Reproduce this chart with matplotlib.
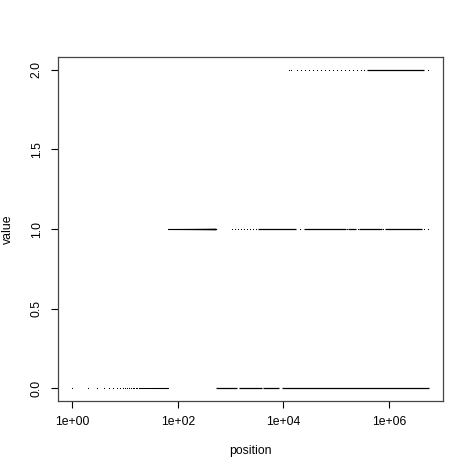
import numpy as np
import matplotlib
matplotlib.use("Agg")
import matplotlib.pyplot as plt
from matplotlib.ticker import FixedLocator, NullLocator

plt.rcParams['font.family'] = ['Liberation Sans', 'DejaVu Sans']

# ---- data: individual points (position, value) ----
low_positions = list(range(1, 65))          # value 0, integer positions
low_values = [0] * len(low_positions)

run1_positions = list(range(65, 526))       # value 1 run
run1_values = [1] * len(run1_positions)

sparse_pos_1 = [1072, 1222, 1393, 1585, 1807, 2060, 2350, 2675, 3050, 21000, 160000, 255000, 780000, 4.6e6, 5.4e6]
sparse_val_1 = [1] * len(sparse_pos_1)

sparse_pos_2 = [12800, 14000, 18200, 21600, 25700, 30600, 36400, 43300, 51600, 61400,
                73100, 87000, 103500, 123000, 147000, 175000, 208000, 247000, 294000, 336000, 5.43e6]
sparse_val_2 = [2] * len(sparse_pos_2)

# ---- data: dense runs (start, end, value) ----
run_starts = [526, 1456, 4130, 9450,
              3330, 24600, 167000, 269000, 837000,
              382000]
run_ends = [1334, 3909, 8280, 5.68e6,
            17140, 151000, 237000, 735000, 4.19e6,
            4.56e6]
run_values = [0, 0, 0, 0,
              1, 1, 1, 1, 1,
              2]

y_ticks = [0.0, 0.5, 1.0, 1.5, 2.0]
y_ticklabels = ["0.0", "0.5", "1.0", "1.5", "2.0"]
x_ticks = [1e0, 1e2, 1e4, 1e6]
x_ticklabels = ["1e+00", "1e+02", "1e+04", "1e+06"]

fig = plt.figure(figsize=(4.74, 4.74), dpi=100)
ax = fig.add_axes([58/474, 73/474, (443-58)/474, (401-57)/474])

ms = 0.75
for xs, ys in [(low_positions, low_values), (run1_positions, run1_values),
               (sparse_pos_1, sparse_val_1), (sparse_pos_2, sparse_val_2)]:
    ax.plot(xs, ys, linestyle='none', marker='s', markersize=ms,
            markeredgewidth=0, color='black')

ax.hlines(run_values, run_starts, run_ends, colors='black', linewidth=0.9)

ax.set_xscale('log')
lo, hi = 0.0, np.log10(5.68e6)
r = hi - lo
ax.set_xlim(10 ** (lo - 0.04 * r), 10 ** (hi + 0.04 * r))
ax.set_ylim(-0.08, 2.08)

ax.xaxis.set_major_locator(FixedLocator(x_ticks))
ax.xaxis.set_minor_locator(NullLocator())
ax.set_xticklabels(x_ticklabels)
ax.set_yticks(y_ticks)
ax.set_yticklabels(y_ticklabels, rotation=90, va='center')

ax.tick_params(axis='both', direction='out', length=5, width=0.8, labelsize=8.8, color='black')
ax.tick_params(axis='x', pad=6)
ax.tick_params(axis='y', pad=6)

for s in ax.spines.values():
    s.set_linewidth(0.9)
    s.set_color('#444444')

ax.set_xlabel('position', fontsize=8.8, labelpad=12)
ax.set_ylabel('value', fontsize=8.8, labelpad=12)

fig.savefig('out.png', dpi=100)
